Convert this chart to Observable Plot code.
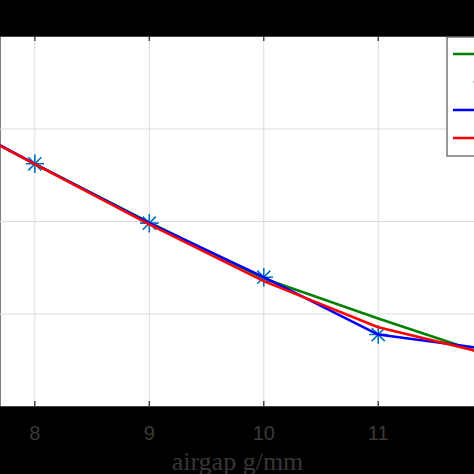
<!DOCTYPE html>
<html>
<head>
<meta charset="utf-8">
<script src="https://cdn.jsdelivr.net/npm/d3@7"></script>
<script src="https://cdn.jsdelivr.net/npm/@observablehq/plot@0.6"></script>
<style>
  html, body { margin: 0; padding: 0; background: #000; }
  #chart { position: relative; width: 474px; height: 474px; overflow: hidden; }
</style>
</head>
<body>
<div id="chart"></div>
<script>
// Data (x: airgap g/mm, y: arbitrary units, gridlines every 1)
const airgap   = [7, 8, 9, 10, 11, 12];
const greenVal = [3.28, 2.62, 1.99, 1.384, 0.951, 0.54];
const markVal  = [3.283, 2.624, 1.982, 1.398, 0.778, 0.615];
const blueVal  = [3.283, 2.624, 1.982, 1.398, 0.778, 0.615];
const redVal   = [3.28, 2.62, 1.97, 1.355, 0.857, 0.558];
const xTicks   = [8, 9, 10, 11];
const yTicks   = [0, 1, 2, 3, 4];
const xLabel   = "airgap g/mm";

const series = [
  {name: "green", values: greenVal, color: "#008000"},
  {name: "blue",  values: blueVal,  color: "#0000ff"},
  {name: "red",   values: redVal,   color: "#ff0000"}
];
const rows = s => airgap.map((x, i) => ({x, y: s.values[i]}));
const marks = airgap.map((x, i) => ({x, y: markVal[i]}));

const W = 474, H = 474, mt = 36, mb = 68;
const frameH = H - mt - mb;

const plot = Plot.plot({
  width: W, height: H,
  marginTop: mt, marginBottom: mb, marginLeft: 0, marginRight: 0,
  style: {background: "#000", color: "#3a3a3a", fontFamily: "Liberation Sans, Arial, sans-serif"},
  x: {domain: [7.7, 11.841]},
  y: {domain: [0, 4], axis: null},
  marks: [
    Plot.frame({fill: "#fff", stroke: null}),
    Plot.gridX(xTicks, {stroke: "#dcdcdc", strokeOpacity: 1}),
    Plot.gridY(yTicks, {stroke: "#dcdcdc", strokeOpacity: 1}),
    Plot.line(rows(series[0]), {x: "x", y: "y", stroke: series[0].color, strokeWidth: 2.5, clip: true}),
    Plot.dot(marks, {x: "x", y: "y", symbol: "plus", r: 6, stroke: "#0072bd", strokeWidth: 1.6, clip: true}),
    Plot.dot(marks, {x: "x", y: "y", symbol: "times", r: 6, stroke: "#0072bd", strokeWidth: 1.6, clip: true}),
    Plot.line(rows(series[1]), {x: "x", y: "y", stroke: series[1].color, strokeWidth: 2.5, clip: true}),
    Plot.line(rows(series[2]), {x: "x", y: "y", stroke: series[2].color, strokeWidth: 2.5, clip: true}),
    Plot.ruleY([yTicks[0], yTicks[yTicks.length - 1]], {stroke: "#444", strokeWidth: 1.2}),
    Plot.tickX(xTicks, {x: d => d, insetBottom: frameH - 5, stroke: "#333", strokeWidth: 1.3}),
    Plot.tickX(xTicks, {x: d => d, insetTop: frameH - 5, stroke: "#333", strokeWidth: 1.3}),
    Plot.axisX(xTicks, {tickSize: 0, tickPadding: 19, fontSize: 20, label: null, fill: "#3a3a3a", tickFormat: d3.format("d")}),
    Plot.text([xLabel], {frameAnchor: "bottom", dy: 63, lineAnchor: "bottom", fontFamily: "Liberation Serif, Times New Roman, serif", fontSize: 26, fill: "#363636"})
  ]
});

// Legend box (cropped by the right edge, as in the reference)
const svg = d3.select(plot);
const lg = svg.append("g");
lg.append("rect").attr("x", 447).attr("y", 37).attr("width", 60).attr("height", 119)
  .attr("fill", "#fff").attr("stroke", "#555").attr("stroke-width", 1.2);
const entries = [
  {type: "line", color: series[0].color, y: 54},
  {type: "marker", color: "#0072bd", y: 82},
  {type: "line", color: series[1].color, y: 110},
  {type: "line", color: series[2].color, y: 138}
];
entries.forEach(e => {
  if (e.type === "line") {
    lg.append("line").attr("x1", 453).attr("x2", 506).attr("y1", e.y).attr("y2", e.y)
      .attr("stroke", e.color).attr("stroke-width", 2.5);
  } else {
    const cx = 479.5, r = 6;
    lg.append("path")
      .attr("d", `M${cx - r},${e.y}H${cx + r}M${cx},${e.y - r}V${e.y + r}M${cx - r * 0.7},${e.y - r * 0.7}L${cx + r * 0.7},${e.y + r * 0.7}M${cx - r * 0.7},${e.y + r * 0.7}L${cx + r * 0.7},${e.y - r * 0.7}`)
      .attr("stroke", e.color).attr("stroke-width", 1.6).attr("fill", "none");
  }
});

document.getElementById("chart").appendChild(plot);
</script>
</body>
</html>
